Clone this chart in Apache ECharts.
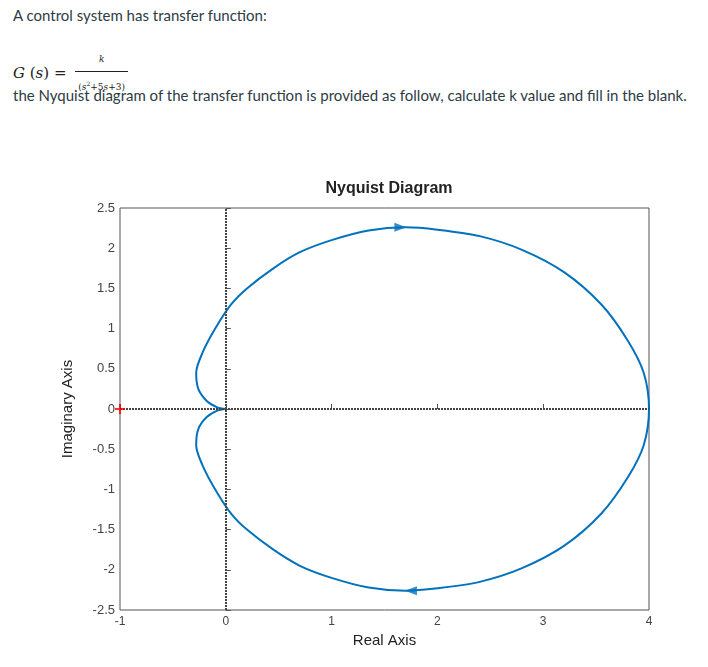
<!DOCTYPE html>
<html lang="en">
<head>
<meta charset="UTF-8">
<title>Nyquist</title>
<script src="https://cdn.jsdelivr.net/npm/echarts@6/dist/echarts.min.js"></script>
<style>
body{margin:0;width:708px;height:667px;background:#fff;font-family:Lato,"Open Sans",sans-serif;color:#2d3b45;position:relative;overflow:hidden}
.t{position:absolute;left:13px;font-size:15px;line-height:23px}
.m{font-family:"DejaVu Serif",serif;color:#222}
.frac{display:inline-block;vertical-align:middle;text-align:center;font-size:9px;margin-left:4px}
.frac span{display:block;padding:0 3px}
.frac .n{border-bottom:1px solid #222;font-style:italic}
#main{position:absolute;left:0;top:150px;width:708px;height:517px}
</style>
</head>
<body>
<div class="t" style="top:4px">A control system has transfer function:</div>
<div class="t m" style="top:48px;font-size:15px"><i>G</i> (<i>s</i>) = <span class="frac"><span class="n">k</span><span>(<i>s</i><sup style="font-size:6px">2</sup>+5<i>s</i>+3)</span></span></div>
<div class="t" style="top:84px;width:690px">the Nyquist diagram of the transfer function is provided as follow, calculate k value and fill in the blank.</div>
<div id="main"></div>
<script>
// points, lower half (w: 0 -> inf)
var lowerRe = [4, 3.95, 3.8, 3.55, 3.2, 2.8, 2.4, 2.0, 1.7, 1.35, 1.0, 0.7, 0.45, 0.2, 0.05, -0.1, -0.22, -0.28, -0.26, -0.18, -0.08, 0];
var lowerIm = [0, -0.45, -0.85, -1.3, -1.7, -1.98, -2.15, -2.23, -2.26, -2.22, -2.1, -1.95, -1.75, -1.5, -1.3, -1.0, -0.7, -0.45, -0.25, -0.1, -0.02, 0];
// upper half (w: -inf -> 0)
var upperRe = [0, -0.08, -0.18, -0.26, -0.28, -0.22, -0.1, 0.05, 0.2, 0.45, 0.7, 1.0, 1.35, 1.7, 2.0, 2.4, 2.8, 3.2, 3.55, 3.8, 3.95, 4];
var upperIm = [0, 0.02, 0.1, 0.25, 0.45, 0.7, 1.0, 1.3, 1.5, 1.75, 1.95, 2.1, 2.22, 2.26, 2.23, 2.15, 1.98, 1.7, 1.3, 0.85, 0.45, 0];
var xTicks = [-1, 0, 1, 2, 3, 4];
var yTicks = [-2.5, -2, -1.5, -1, -0.5, 0, 0.5, 1, 1.5, 2, 2.5];

function zip(a, b) { return a.map(function (v, i) { return [v, b[i]]; }); }
var curve = zip(upperRe, upperIm).concat(zip(lowerRe, lowerIm).slice(1));

var blue = '#0072bd';
var myChart = echarts.init(document.getElementById('main'));
myChart.setOption({
    animation: false,
    title: {text: 'Nyquist Diagram', left: 384, top: 26, textAlign: 'center',
        textStyle: {fontFamily: 'Liberation Sans', fontSize: 16, fontWeight: 'bold', color: '#222'}},
    grid: {left: 120, right: 59, top: 58, bottom: 57, show: true, borderColor: '#555', borderWidth: 1},
    xAxis: {type: 'value', min: -1, max: 4, interval: 1, name: 'Real Axis', nameLocation: 'middle', nameGap: 22,
        nameTextStyle: {fontFamily: 'Liberation Sans', fontSize: 15, color: '#222'},
        axisLine: {show: false}, axisTick: {inside: true, length: 5, lineStyle: {color: '#555'}},
        axisLabel: {fontFamily: 'Liberation Sans', fontSize: 12, color: '#444', margin: 6}, splitLine: {show: false}},
    yAxis: {type: 'value', min: -2.5, max: 2.5, interval: 0.5, name: 'Imaginary Axis', nameLocation: 'middle', nameGap: 45,
        nameTextStyle: {fontFamily: 'Liberation Sans', fontSize: 15, color: '#222'},
        axisLine: {show: false}, axisTick: {inside: true, length: 5, lineStyle: {color: '#555'}},
        axisLabel: {fontFamily: 'Liberation Sans', fontSize: 13, color: '#444', margin: 5}, splitLine: {show: false}},
    series: [
        {type: 'line', data: curve, showSymbol: false, smooth: 0.3, lineStyle: {color: blue, width: 2}, z: 3,
            markLine: {silent: true, symbol: 'none', label: {show: false},
                lineStyle: {color: '#444', type: [2, 1], width: 2},
                data: [{xAxis: 0}, {yAxis: 0}]}},
        {type: 'scatter', symbol: 'triangle', symbolSize: [9, 12], itemStyle: {color: blue}, z: 4,
            data: [{value: [1.65, 2.262], symbolRotate: -90}, {value: [1.75, -2.262], symbolRotate: 90}]},
        {type: 'scatter', symbol: 'path://M-1,0L1,0M0,-1L0,1', symbolSize: 10, z: 5,
            itemStyle: {color: 'none', borderColor: '#ff0000', borderWidth: 2}, data: [[-1, 0]]}
    ]
});
</script>
</body>
</html>
